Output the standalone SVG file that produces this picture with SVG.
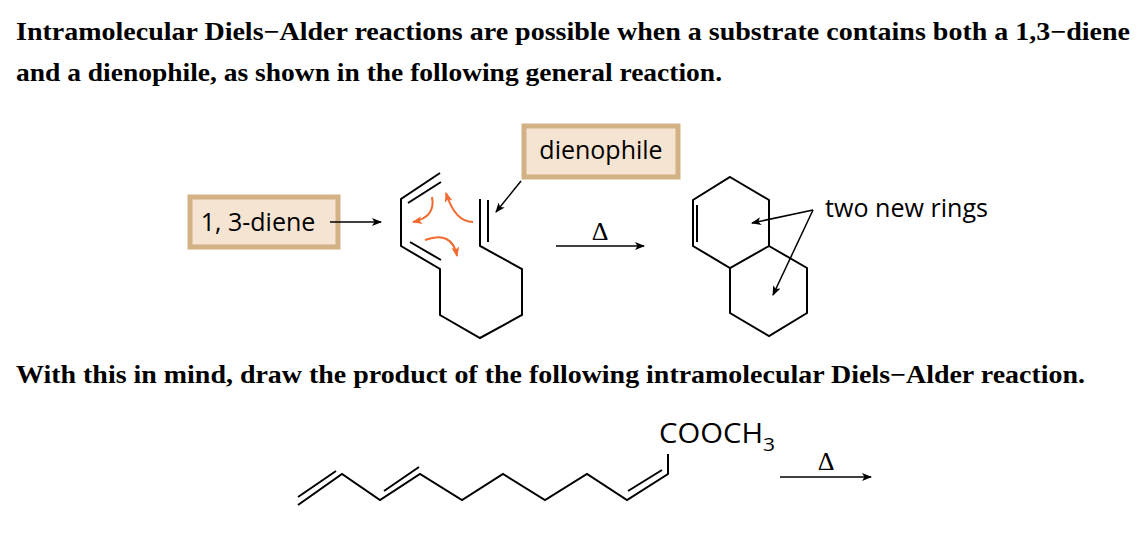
<svg xmlns="http://www.w3.org/2000/svg" width="1144" height="538" viewBox="0 0 1144 538">
<style>
.h{font-family:"Liberation Serif",serif;font-weight:bold;font-size:25px;fill:#000}
.s{font-family:"Open Sans","DejaVu Sans",sans-serif;font-size:25px;fill:#000}
.b{fill:none;stroke:#000;stroke-width:2;stroke-linejoin:miter}
.box{fill:#f6e4d2;stroke:#d2b185;stroke-width:5}
.a{fill:none;stroke:#000;stroke-width:1.5}
.r{fill:none;stroke:#f26a2e;stroke-width:2}
.d{font-family:"Liberation Serif",serif;font-size:26px}
</style>
<defs>
<marker id="ah" markerWidth="10" markerHeight="8" refX="9" refY="4" orient="auto" markerUnits="userSpaceOnUse"><path d="M0,0 L10,4 L0,8 L2.5,4 Z" fill="#000"/></marker>
<marker id="rh" markerWidth="10" markerHeight="8" refX="9" refY="4" orient="auto" markerUnits="userSpaceOnUse"><path d="M0,0 L10,4 L0,8 L2.5,4 Z" fill="#f26a2e"/></marker>
</defs>
<rect width="1144" height="538" fill="#fff"/>
<text class="h" x="16" y="40" textLength="1114" lengthAdjust="spacingAndGlyphs">Intramolecular Diels−Alder reactions are possible when a substrate contains both a 1,3−diene</text>
<text class="h" x="16" y="81" textLength="706" lengthAdjust="spacingAndGlyphs">and a dienophile, as shown in the following general reaction.</text>
<text class="h" x="16" y="383" textLength="1069" lengthAdjust="spacingAndGlyphs">With this in mind, draw the product of the following intramolecular Diels−Alder reaction.</text>

<g id="diene-label"><rect class="box" x="190" y="197" width="148" height="50"/><text class="s" x="258" y="231" text-anchor="middle">1, 3-diene</text></g>
<g id="dienophile-label"><rect class="box" x="524" y="126" width="154" height="51"/><text class="s" x="601" y="159" text-anchor="middle">dienophile</text></g>
<g id="substrate">
<path class="b" d="M440,173 L401,199 L401,246 L440,269 L440,315 L480,338 L522,315 L522,269 L480,246 L480,199"/>
<path class="b" d="M408,203 L441,182 M410,242 L441,260 M488,200 L488,242"/>
<path class="r" d="M432,197 Q436,217 413,222" marker-end="url(#rh)"/>
<path class="r" d="M473,222 Q455,222 446,193" marker-end="url(#rh)"/>
<path class="r" d="M425,240 Q452,230 457,256" marker-end="url(#rh)"/>
</g>
<g id="product">
<path class="b" d="M730,177 L769,200 L769,246 L730,268 L693,246 L693,200 Z M769,246 L807,268 L807,313 L769,336 L730,313 L730,268"/>
<path class="b" d="M697,205 L697,242"/>
</g>
<g id="two-new-rings"><text class="s" x="825" y="217" textLength="163" lengthAdjust="spacingAndGlyphs">two new rings</text></g>
<g id="reactant2">
<path class="b" d="M298,505 L342,474 L380,500 L420,474 L462,500 L503,474 L545,500 L587,474 L627,500 L668,474 L668,454"/>
<path class="b" d="M298,497 L336,471 M384,491 L419,467 M628,491 L662,470"/>
<text x="659" y="443" font-family="'Open Sans',sans-serif" font-size="28" textLength="104" lengthAdjust="spacingAndGlyphs">COOCH</text>
<text x="763" y="451" font-family="'Open Sans',sans-serif" font-size="18" textLength="12" lengthAdjust="spacingAndGlyphs">3</text>
</g>
<g id="connectors">
<line class="a" x1="330" y1="222" x2="381" y2="222" marker-end="url(#ah)"/>
<line class="a" x1="521" y1="181" x2="496" y2="212" marker-end="url(#ah)"/>
<line class="a" x1="556" y1="246" x2="644" y2="246" marker-end="url(#ah)"/>
<text class="d" x="600" y="240" text-anchor="middle">Δ</text>
<line class="a" x1="813" y1="210" x2="752" y2="223" marker-end="url(#ah)"/>
<line class="a" x1="813" y1="210" x2="773" y2="295" marker-end="url(#ah)"/>
<line class="a" x1="780" y1="477" x2="871" y2="477" marker-end="url(#ah)"/>
<text class="d" x="826" y="470" text-anchor="middle">Δ</text>
</g>
</svg>
